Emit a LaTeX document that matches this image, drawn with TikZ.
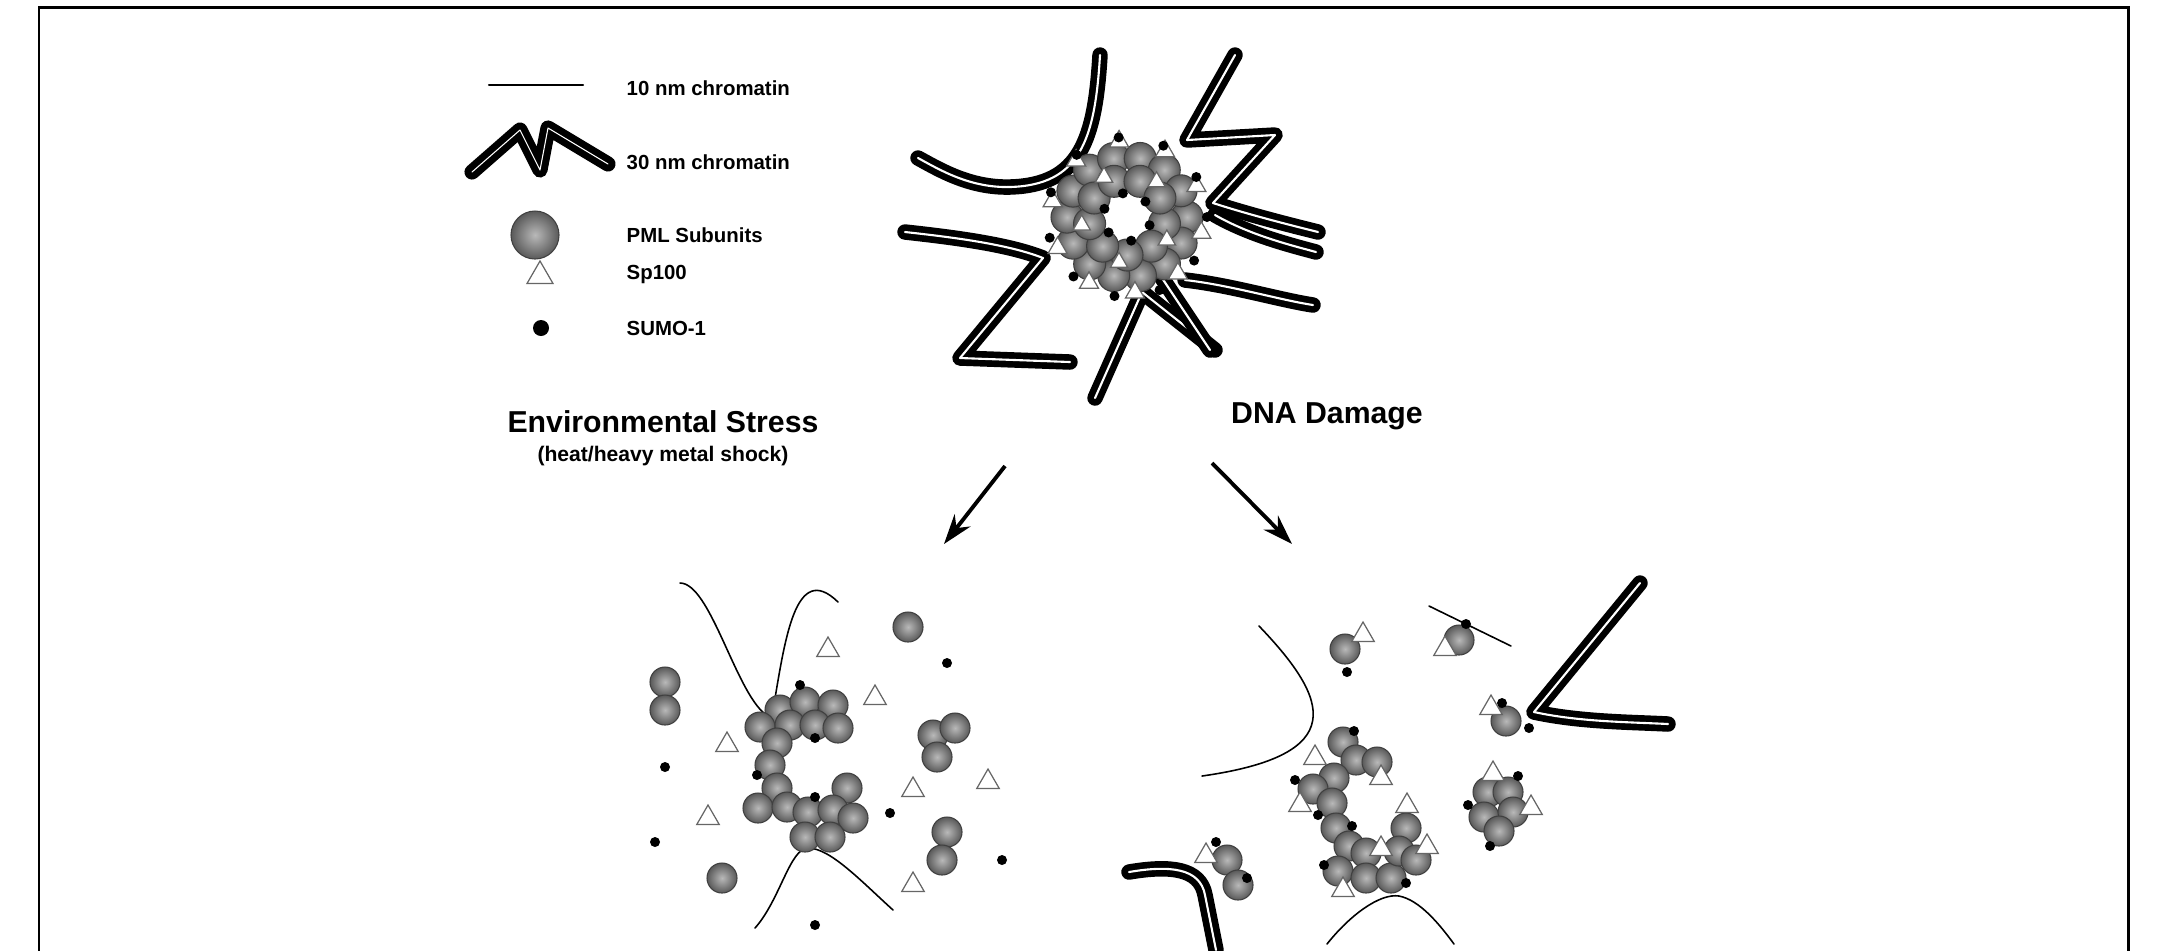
\documentclass[tikz,border=0pt]{standalone}
\usepackage{fontspec}
\setmainfont{Liberation Sans}
\usetikzlibrary{shapes.geometric,arrows.meta}
\begin{document}
\begin{tikzpicture}[x=0.01cm,y=-0.01cm,
  pml/.style={circle,minimum size=0.3cm,inner sep=0pt,draw=black!75,line width=0.3pt,inner color=gray!55,outer color=black!65},
  pmlbig/.style={pml,minimum size=0.48cm},
  sptri/.style={regular polygon,regular polygon sides=3,draw=black!60,fill=white,line width=0.35pt,minimum size=0.26cm,inner sep=0pt},
  sumo/.style={circle,fill=black,minimum size=0.1cm,inner sep=0pt},
  sumobig/.style={sumo,minimum size=0.16cm},
  fib/.style={line width=1.9pt,double=white,double distance=0.6pt,line cap=round,line join=round},
  thin/.style={line width=0.45pt,line cap=round},
  lab/.style={font=\fontsize{5.8}{7}\selectfont\bfseries,anchor=west,inner sep=0pt},
  head/.style={font=\fontsize{8.6}{10}\selectfont\bfseries,inner sep=0pt},
  sub/.style={font=\fontsize{6}{7}\selectfont\bfseries,inner sep=0pt},
  arr/.style={line width=1.1pt,-{Stealth[length=0.3cm,width=0.2cm]}}]
\useasboundingbox (0,0) rectangle (2167,950);
\draw[line width=0.85pt] (39,960) -- (39,7) -- (2128,7) -- (2128,960);

% legend
\draw[thin,line width=0.6pt] (489,85) -- (583,85);
\node[lab] (l10) at (626,88) {10 nm chromatin};
\draw[fib,line width=2pt,double distance=0.3pt] (472,172)--(520,130)--(540,170)--(548,128)--(608,164);
\node[lab] (l30) at (626,162) {30 nm chromatin};
\node[pmlbig] (lpml) at (535,235) {};
\node[lab] (lpmlt) at (626,235) {PML Subunits};
\node[sptri,minimum size=0.3cm] (lsp) at (540,276) {};
\node[lab] (lspt) at (626,274) {Sp100};
\node[sumobig] (lsu) at (541,328) {};
\node[lab] (lsut) at (626,328) {SUMO-1};

% central body fibres
\draw[fib] (1100,55) .. controls (1095,140) and (1080,185) .. (1010,187) .. controls (970,188) and (940,170) .. (918,158);
\draw[fib] (1235,55) -- (1187,140) -- (1275,135) -- (1213,203) .. controls (1250,215) and (1290,225) .. (1318,232);
\draw[fib] (1215,215) .. controls (1250,235) and (1290,245) .. (1316,252);
\draw[fib] (905,232) .. controls (960,238) and (1010,245) .. (1043,258) -- (960,358) -- (1070,362);
\draw[fib] (1095,398) -- (1142,292) -- (1215,350);
\draw[fib] (1160,275) -- (1210,350);
\draw[fib] (1185,280) .. controls (1230,285) and (1280,300) .. (1313,305);
% central body ring
\begin{scope}[shift={(1127,217)}]
\foreach \a in {0,25.7,...,359} \node[pml,minimum size=0.32cm] at (\a:60) {};
\foreach \a in {10,50,...,359} \node[pml,minimum size=0.32cm] at (\a:38) {};
\foreach \a in {12,48,...,359} \node[sptri,minimum size=0.22cm] at (\a:76) {};
\foreach \a in {30,100,170,240,310} \node[sptri,minimum size=0.2cm] at (\a:46) {};
\foreach \a in {0,33,...,359} \node[sumo] at (\a:80) {};
\foreach \a in {20,80,140,200,260,320} \node[sumo] at (\a:24) {};
\end{scope}

% heads and arrows
\node[head] (env) at (663,422) {Environmental Stress};
\node[sub] (envs) at (663,456) {(heat/heavy metal shock)};
\node[head] (dna) at (1327,416) {DNA Damage};
\coordinate (a1s) at (1005,466); \coordinate (a1e) at (944,544);
\coordinate (a2s) at (1212,463); \coordinate (a2e) at (1292,544);
\draw[arr] (a1s) -- (a1e);
\draw[arr] (a2s) -- (a2e);

% bottom left panel
\draw[thin] (680,583) .. controls (710,583) and (735,690) .. (765,714);
\draw[thin] (773,710) .. controls (785,640) and (795,560) .. (838,602);
\draw[thin] (755,928) .. controls (780,900) and (790,848) .. (808,848) .. controls (830,848) and (860,880) .. (893,910);
\foreach \p in {{780,710},{805,702},{833,705},{760,727},{790,725},{815,725},{838,728},{777,743},{770,765},{777,788},{847,788},{758,808},{787,807},{808,812},{833,810},{853,818},{805,837},{830,837},
 {908,627},{665,682},{665,710},{933,735},{955,728},{937,757},{947,832},{942,860},{722,878}}
  \node[pml] at (\p) {};
\foreach \p in {{828,650},{875,698},{727,745},{913,790},{988,782},{708,818},{913,885}}
  \node[sptri] at (\p) {};
\foreach \p in {{947,663},{665,767},{757,775},{815,797},{800,685},{815,738},{890,813},{655,842},{1002,860},{815,925}}
  \node[sumo] at (\p) {};

% bottom right panel
\draw[thin] (1259,626) .. controls (1330,700) and (1350,755) .. (1202,776);
\draw[thin] (1429,606) -- (1511,646);
\draw[thin] (1327,944) .. controls (1350,915) and (1380,893) .. (1399,896) .. controls (1420,900) and (1440,925) .. (1454,944);
\draw[fib] (1640,583) -- (1534,712) .. controls (1580,722) and (1630,722) .. (1668,724);
\draw[fib] (1129,872) .. controls (1170,865) and (1200,868) .. (1205,895) -- (1216,950);
\foreach \p in {{1343,742},{1356,760},{1377,762},{1334,778},{1313,789},{1332,803},{1336,828},{1349,846},{1366,853},{1338,871},{1366,878},{1391,878},{1406,828},{1399,851},{1416,860},
 {1345,649},{1459,640},{1506,721},{1488,792},{1508,792},{1484,817},{1513,812},{1499,831},{1227,860},{1238,885}}
  \node[pml] at (\p) {};
\foreach \p in {{1363,635},{1445,649},{1491,708},{1315,758},{1381,778},{1300,805},{1407,806},{1427,847},{1381,849},{1343,890},{1493,774},{1531,808},{1206,856}}
  \node[sptri] at (\p) {};
\foreach \p in {{1347,672},{1466,624},{1502,703},{1529,728},{1354,731},{1295,780},{1318,815},{1352,826},{1324,865},{1518,776},{1468,805},{1490,846},{1216,842},{1247,878},{1406,883}}
  \node[sumo] at (\p) {};
\end{tikzpicture}
\end{document}
